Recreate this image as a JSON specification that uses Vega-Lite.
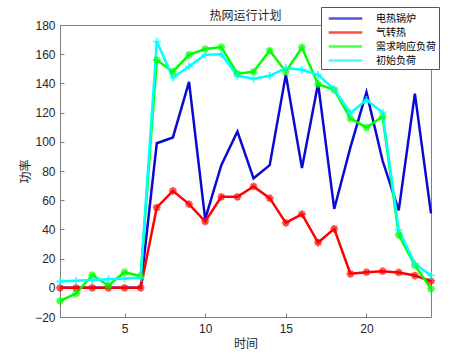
{
  "$schema": "https://vega.github.io/schema/vega-lite/v6.json",
  "autosize": "none",
  "width": 371,
  "height": 292,
  "padding": {"left": 60, "top": 25, "right": 43, "bottom": 40},
  "background": "white",
  "title": {"text": "热网运行计划", "font": "Noto Sans CJK SC", "fontSize": 12, "fontWeight": "normal", "color": "#262626", "offset": 4, "dy": 20},
  "config": {
    "view": {"stroke": "#7f7f7f", "strokeWidth": 1},
    "axis": {"labelFont": "Liberation Sans", "labelFontSize": 12, "labelColor": "#262626", "titleFont": "Noto Sans CJK SC", "titleFontSize": 12, "titleFontWeight": "normal", "titleColor": "#262626", "domainColor": "#7f7f7f", "tickColor": "#7f7f7f", "grid": false}
  },
  "data": {"values": [
    {"t":1,"s":"电热锅炉","v":0},{"t":2,"s":"电热锅炉","v":0},{"t":3,"s":"电热锅炉","v":0},{"t":4,"s":"电热锅炉","v":0},{"t":5,"s":"电热锅炉","v":0},{"t":6,"s":"电热锅炉","v":0},
    {"t":7,"s":"电热锅炉","v":99},{"t":8,"s":"电热锅炉","v":103},{"t":9,"s":"电热锅炉","v":141},{"t":10,"s":"电热锅炉","v":47},{"t":11,"s":"电热锅炉","v":84},{"t":12,"s":"电热锅炉","v":107},
    {"t":13,"s":"电热锅炉","v":75},{"t":14,"s":"电热锅炉","v":84},{"t":15,"s":"电热锅炉","v":146},{"t":16,"s":"电热锅炉","v":82},{"t":17,"s":"电热锅炉","v":140},{"t":18,"s":"电热锅炉","v":54},
    {"t":19,"s":"电热锅炉","v":96},{"t":20,"s":"电热锅炉","v":134},{"t":21,"s":"电热锅炉","v":87},{"t":22,"s":"电热锅炉","v":53},{"t":23,"s":"电热锅炉","v":133},{"t":24,"s":"电热锅炉","v":51},
    {"t":1,"s":"气转热","v":0},{"t":2,"s":"气转热","v":0},{"t":3,"s":"气转热","v":0},{"t":4,"s":"气转热","v":0},{"t":5,"s":"气转热","v":0},{"t":6,"s":"气转热","v":0},
    {"t":7,"s":"气转热","v":55},{"t":8,"s":"气转热","v":66.4},{"t":9,"s":"气转热","v":57.3},{"t":10,"s":"气转热","v":45.4},{"t":11,"s":"气转热","v":62.3},{"t":12,"s":"气转热","v":62.3},
    {"t":13,"s":"气转热","v":69.4},{"t":14,"s":"气转热","v":61.4},{"t":15,"s":"气转热","v":44.5},{"t":16,"s":"气转热","v":50.5},{"t":17,"s":"气转热","v":31},{"t":18,"s":"气转热","v":40.4},
    {"t":19,"s":"气转热","v":9.6},{"t":20,"s":"气转热","v":10.7},{"t":21,"s":"气转热","v":11.4},{"t":22,"s":"气转热","v":10.5},{"t":23,"s":"气转热","v":8.4},{"t":24,"s":"气转热","v":4.6},
    {"t":1,"s":"需求响应负荷","v":-8.9},{"t":2,"s":"需求响应负荷","v":-3.9},{"t":3,"s":"需求响应负荷","v":8.7},{"t":4,"s":"需求响应负荷","v":1.6},{"t":5,"s":"需求响应负荷","v":10.7},{"t":6,"s":"需求响应负荷","v":8},
    {"t":7,"s":"需求响应负荷","v":156},{"t":8,"s":"需求响应负荷","v":148},{"t":9,"s":"需求响应负荷","v":159.6},{"t":10,"s":"需求响应负荷","v":163.5},{"t":11,"s":"需求响应负荷","v":164.9},{"t":12,"s":"需求响应负荷","v":146.6},
    {"t":13,"s":"需求响应负荷","v":148},{"t":14,"s":"需求响应负荷","v":162.5},{"t":15,"s":"需求响应负荷","v":148},{"t":16,"s":"需求响应负荷","v":164.6},{"t":17,"s":"需求响应负荷","v":139.5},{"t":18,"s":"需求响应负荷","v":135.6},
    {"t":19,"s":"需求响应负荷","v":116},{"t":20,"s":"需求响应负荷","v":109.8},{"t":21,"s":"需求响应负荷","v":117.3},{"t":22,"s":"需求响应负荷","v":36.3},{"t":23,"s":"需求响应负荷","v":15.3},{"t":24,"s":"需求响应负荷","v":-0.7},
    {"t":1,"s":"初始负荷","v":4.3},{"t":2,"s":"初始负荷","v":4.8},{"t":3,"s":"初始负荷","v":5.3},{"t":4,"s":"初始负荷","v":5.8},{"t":5,"s":"初始负荷","v":6.3},{"t":6,"s":"初始负荷","v":6.8},
    {"t":7,"s":"初始负荷","v":168.7},{"t":8,"s":"初始负荷","v":144},{"t":9,"s":"初始负荷","v":151.6},{"t":10,"s":"初始负荷","v":159.6},{"t":11,"s":"初始负荷","v":160},{"t":12,"s":"初始负荷","v":145.2},
    {"t":13,"s":"初始负荷","v":143.2},{"t":14,"s":"初始负荷","v":145.2},{"t":15,"s":"初始负荷","v":150.5},{"t":16,"s":"初始负荷","v":149.3},{"t":17,"s":"初始负荷","v":145.9},{"t":18,"s":"初始负荷","v":136},
    {"t":19,"s":"初始负荷","v":119.6},{"t":20,"s":"初始负荷","v":128.8},{"t":21,"s":"初始负荷","v":120},{"t":22,"s":"初始负荷","v":39.7},{"t":23,"s":"初始负荷","v":16.4},{"t":24,"s":"初始负荷","v":8.4}
  ]},
  "encoding": {
    "x": {"field": "t", "type": "quantitative", "title": "时间", "scale": {"domain": [1, 24], "nice": false, "zero": false},
      "axis": {"values": [5, 10, 15, 20], "tickSize": -4, "labelPadding": 10, "titlePadding": 4}},
    "y": {"field": "v", "type": "quantitative", "title": "功率", "scale": {"domain": [-20, 180], "nice": false},
      "axis": {"values": [-20, 0, 20, 40, 60, 80, 100, 120, 140, 160, 180], "tickSize": -4, "labelPadding": 9, "titleX": -28, "titleY": 146}},
    "color": {"field": "s", "type": "nominal",
      "scale": {"domain": ["电热锅炉", "气转热", "需求响应负荷", "初始负荷"], "range": ["#0a0ad2", "#ff0000", "#00ff00", "#00ffff"]},
      "legend": {"title": null, "orient": "none", "legendX": 261, "legendY": -18, "fillColor": "white", "strokeColor": "#555555", "padding": 3,
        "symbolType": "M-2.4,0L2.4,0", "symbolSize": 196, "symbolStrokeWidth": 2.5, "symbolOffset": 13, "labelOffset": 22,
        "labelFont": "Noto Sans CJK SC", "labelFontSize": 10, "labelColor": "#000000", "rowPadding": 0}}
  },
  "layer": [
    {"mark": {"type": "line", "strokeWidth": 2.5}},
    {"transform": [{"filter": "datum.s !== '电热锅炉'"}],
     "mark": {"type": "point", "filled": false, "strokeWidth": 2, "size": 60},
     "encoding": {"shape": {"field": "s", "type": "nominal", "legend": null,
       "scale": {"domain": ["气转热", "需求响应负荷", "初始负荷"], "range": ["M-1,0L1,0M0,-1L0,1M-0.7,-0.7L0.7,0.7M-0.7,0.7L0.7,-0.7", "M-1,0L1,0M0,-1L0,1M-0.7,-0.7L0.7,0.7M-0.7,0.7L0.7,-0.7", "M-1,0L1,0M0,-1L0,1"]}}}}
  ]
}
